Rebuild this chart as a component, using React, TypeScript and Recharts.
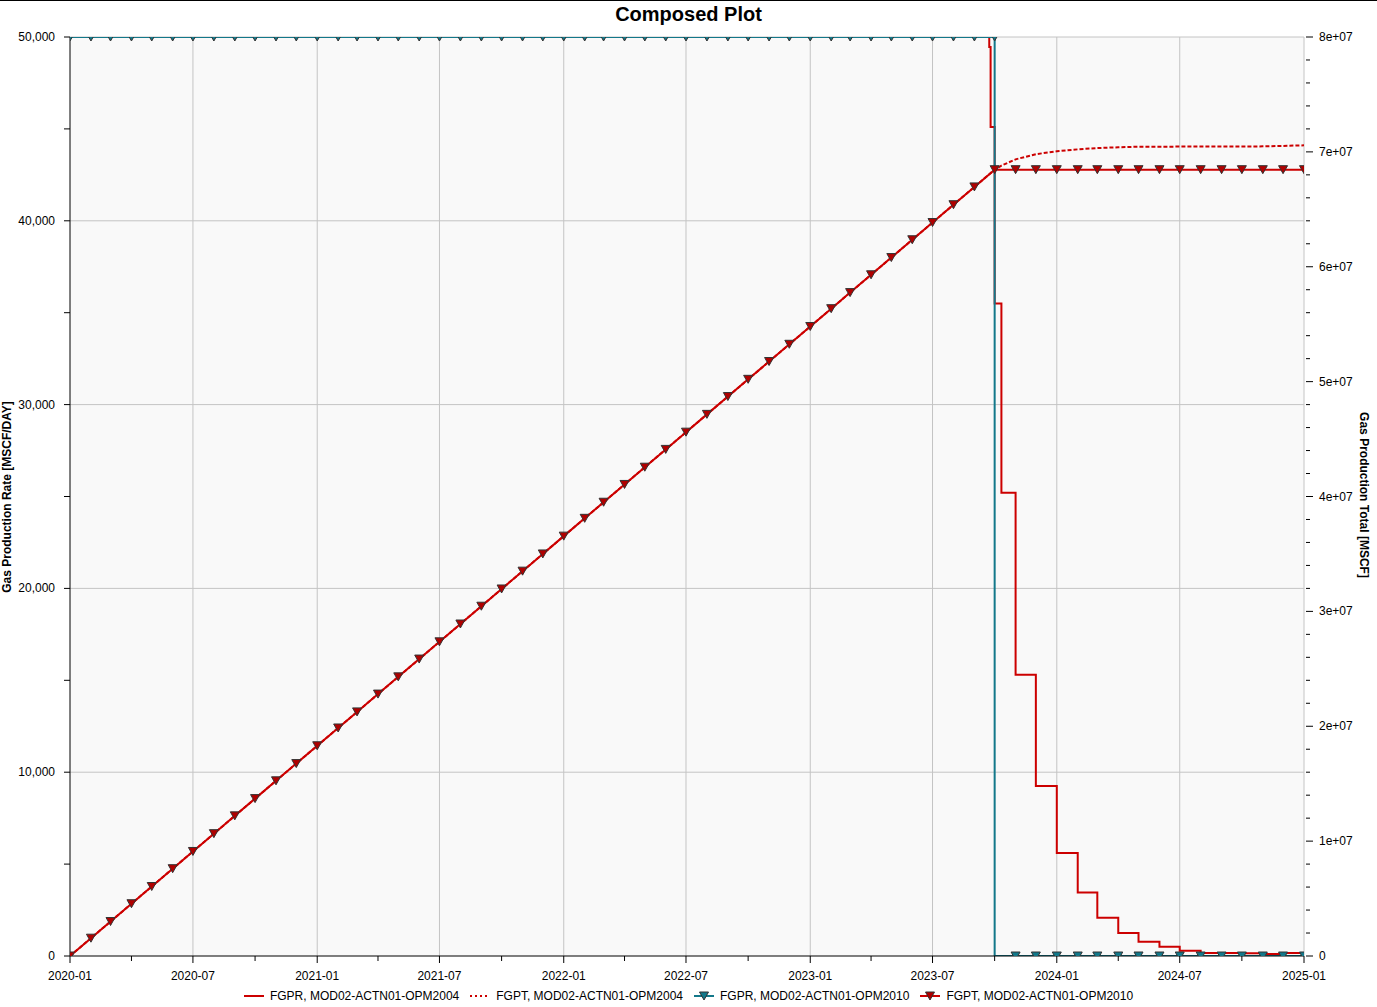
import { ComposedChart, Line, XAxis, YAxis, CartesianGrid } from 'recharts'

const FONT = '"Liberation Sans", Arial, sans-serif'
const RED = '#cc0000'
const TEAL = '#13788a'

// monthly report dates, 2020-01 .. 2025-01
const months = [
  '2020-01', '2020-02', '2020-03', '2020-04', '2020-05', '2020-06', '2020-07', '2020-08', '2020-09', '2020-10', '2020-11', '2020-12',
  '2021-01', '2021-02', '2021-03', '2021-04', '2021-05', '2021-06', '2021-07', '2021-08', '2021-09', '2021-10', '2021-11', '2021-12',
  '2022-01', '2022-02', '2022-03', '2022-04', '2022-05', '2022-06', '2022-07', '2022-08', '2022-09', '2022-10', '2022-11', '2022-12',
  '2023-01', '2023-02', '2023-03', '2023-04', '2023-05', '2023-06', '2023-07', '2023-08', '2023-09', '2023-10', '2023-11', '2023-12',
  '2024-01', '2024-02', '2024-03', '2024-04', '2024-05', '2024-06', '2024-07', '2024-08', '2024-09', '2024-10', '2024-11', '2024-12',
  '2025-01',
]

// FGPR, OPM2010 (MSCF/DAY), one per month
const fgpr2010 = [
  50000, 50000, 50000, 50000, 50000, 50000, 50000, 50000, 50000, 50000, 50000, 50000,
  50000, 50000, 50000, 50000, 50000, 50000, 50000, 50000, 50000, 50000, 50000, 50000,
  50000, 50000, 50000, 50000, 50000, 50000, 50000, 50000, 50000, 50000, 50000, 50000,
  50000, 50000, 50000, 50000, 50000, 50000, 50000, 50000, 50000, 50000, 0, 0,
  0, 0, 0, 0, 0, 0, 0, 0, 0, 0, 0, 0,
  0,
]

// FGPT, OPM2010 (millions of MSCF), one per month
const fgpt2010 = [
  0, 1.55, 3.0, 4.55, 6.05, 7.6, 9.1, 10.65, 12.2, 13.7, 15.25, 16.75,
  18.3, 19.85, 21.25, 22.8, 24.3, 25.85, 27.35, 28.9, 30.45, 31.95, 33.5, 35.0,
  36.55, 38.1, 39.5, 41.05, 42.55, 44.1, 45.6, 47.15, 48.7, 50.2, 51.75, 53.25,
  54.8, 56.35, 57.75, 59.3, 60.8, 62.35, 63.85, 65.4, 66.95, 68.45, 68.45, 68.45,
  68.45, 68.45, 68.45, 68.45, 68.45, 68.45, 68.45, 68.45, 68.45, 68.45, 68.45, 68.45,
  68.45,
]

// FGPR, OPM2004 (MSCF/DAY), step values at these dates
const fgpr2004Dates = [
  '2020-01-01', '2023-09-23', '2023-09-25', '2023-10-01', '2023-10-11', '2023-11-01', '2023-12-01',
  '2024-01-01', '2024-02-01', '2024-03-01', '2024-04-01', '2024-05-01', '2024-06-01', '2024-07-01',
  '2024-08-01', '2024-09-01', '2024-10-01', '2024-11-01', '2024-12-01', '2025-01-01',
]
const fgpr2004 = [
  50000, 49450, 45100, 35500, 25200, 15300, 9250,
  5600, 3450, 2080, 1250, 780, 500, 290,
  170, 160, 150, 110, 170, 170,
]

// FGPT, OPM2004 (millions of MSCF): same as OPM2010 up to 2023-10, then this tail
const fgpt2004TailDates = [
  '2023-10-11', '2023-11-01', '2023-12-01', '2024-01-01', '2024-02-01', '2024-03-01', '2024-04-01',
  '2024-05-01', '2024-06-01', '2024-07-01', '2024-08-01', '2024-09-01', '2024-10-01', '2024-11-01',
  '2024-12-01', '2025-01-01',
]
const fgpt2004Tail = [
  68.8, 69.35, 69.8, 70.05, 70.22, 70.33, 70.4,
  70.45, 70.45, 70.46, 70.46, 70.47, 70.47, 70.48,
  70.52, 70.57,
]

const xTickLabels = ['2020-01', '2020-07', '2021-01', '2021-07', '2022-01', '2022-07', '2023-01', '2023-07', '2024-01', '2024-07', '2025-01']
const xMinorTicks = ['2020-04', '2020-10', '2021-04', '2021-10', '2022-04', '2022-10', '2023-04', '2023-10', '2024-04', '2024-10']
const leftTicks = [0, 5000, 10000, 15000, 20000, 25000, 30000, 35000, 40000, 45000, 50000]
const leftGrid = [10000, 20000, 30000, 40000, 50000]

function ts(s: string) {
  const y = +s.slice(0, 4)
  const m = +s.slice(5, 7) - 1
  const d = s.length > 7 ? +s.slice(8, 10) : 1
  return Date.UTC(y, m, d)
}

const T0 = ts('2020-01')
const T1 = ts('2025-01')
const xTicks = [...xTickLabels, ...xMinorTicks].map(ts).sort((a, b) => a - b)
const xMajorSet = new Set(xTickLabels.map(ts))
const rightTicks: number[] = []
for (let v = 0; v <= 8e7; v += 2e6) rightTicks.push(v)

const fgpr2010Data = months.map((m, i) => ({ t: ts(m), v: fgpr2010[i] }))
const fgpt2010Data = months.map((m, i) => ({ t: ts(m), v: fgpt2010[i] * 1e6 }))
const fgpr2004Data = fgpr2004Dates.map((d, i) => ({ t: ts(d), v: fgpr2004[i] }))
const fgpt2004Data = [
  ...fgpt2010Data.filter((p) => p.t <= ts('2023-10')),
  ...fgpt2004TailDates.map((d, i) => ({ t: ts(d), v: fgpt2004Tail[i] * 1e6 })),
]

const tri = (fill: string) => (p: any) => {
  const { cx, cy, index } = p
  if (cx == null || cy == null) return <g key={index} />
  return (
    <path
      key={index}
      d={`M${cx - 4.5},${cy - 4}L${cx + 4.5},${cy - 4}L${cx},${cy + 4}Z`}
      fill={fill}
      stroke="#333"
      strokeWidth={1}
    />
  )
}

function LeftTick(p: any) {
  const { x, y, payload } = p
  const v = payload.value as number
  return (
    <g>
      <line x1={x - 6} x2={x} y1={y} y2={y} stroke="#000" />
      {v % 10000 === 0 && (
        <text x={x - 15} y={y} dy={4} textAnchor="end" fontSize={12} fontFamily={FONT} fill="#000">
          {v.toLocaleString('en-US')}
        </text>
      )}
    </g>
  )
}

function RightTick(p: any) {
  const { x, y, payload } = p
  const v = payload.value as number
  const major = v % 1e7 === 0
  return (
    <g>
      <line x1={x + 2} x2={x + (major ? 9 : 6)} y1={y} y2={y} stroke="#000" />
      {major && (
        <text x={x + 15} y={y} dy={4} textAnchor="start" fontSize={12} fontFamily={FONT} fill="#000">
          {v === 0 ? '0' : `${v / 1e7}e+07`}
        </text>
      )}
    </g>
  )
}

function BottomTick(p: any) {
  const { x, y, payload } = p
  const v = payload.value as number
  const major = xMajorSet.has(v)
  const d = new Date(v)
  const label = `${d.getUTCFullYear()}-${String(d.getUTCMonth() + 1).padStart(2, '0')}`
  return (
    <g>
      <line x1={x} x2={x} y1={y} y2={y + (major ? 7 : 5)} stroke="#000" />
      {major && (
        <text x={x} y={y + 24} textAnchor="middle" fontSize={12} fontFamily={FONT} fill="#000">
          {label}
        </text>
      )}
    </g>
  )
}

const legendItems = [
  { name: 'FGPR, MOD02-ACTN01-OPM2004', color: RED, dash: undefined, marker: null },
  { name: 'FGPT, MOD02-ACTN01-OPM2004', color: RED, dash: '2 3', marker: null },
  { name: 'FGPR, MOD02-ACTN01-OPM2010', color: TEAL, dash: undefined, marker: TEAL },
  { name: 'FGPT, MOD02-ACTN01-OPM2010', color: RED, dash: undefined, marker: '#b00000' },
]

export default function App() {
  return (
    <div style={{ position: 'relative', width: 1377, height: 1007, background: '#fff', fontFamily: FONT }}>
      <style>{'body{margin:0}'}</style>
      <div style={{ position: 'absolute', left: 0, top: 0, width: 1377, height: 1, background: '#000' }} />
      <div
        style={{
          position: 'absolute', left: 0, top: 2, width: 1377, textAlign: 'center',
          fontSize: 20, fontWeight: 'bold', lineHeight: '24px', color: '#000',
        }}
      >
        Composed Plot
      </div>
      <ComposedChart width={1377} height={1007} margin={{ top: 37, right: 3, bottom: 21, left: 10 }}>
        <CartesianGrid
          yAxisId="left"
          fill="#f9f9f9"
          stroke="#c4c4c4"
          horizontalValues={leftGrid}
          verticalValues={xTickLabels.slice(1).map(ts)}
        />
        <XAxis
          dataKey="t"
          type="number"
          domain={[T0, T1]}
          ticks={xTicks}
          allowDataOverflow
          interval={0}
          height={30}
          tickSize={0}
          tickMargin={0}
          tickLine={false}
          tick={<BottomTick />}
          axisLine={{ stroke: '#000' }}
        />
        <YAxis
          yAxisId="left"
          type="number"
          domain={[0, 50000]}
          ticks={leftTicks}
          allowDataOverflow
          interval={0}
          width={60}
          tickSize={0}
          tickMargin={0}
          tickLine={false}
          tick={<LeftTick />}
          axisLine={{ stroke: '#000' }}
        />
        <YAxis
          yAxisId="right"
          orientation="right"
          type="number"
          domain={[0, 8e7]}
          ticks={rightTicks}
          allowDataOverflow
          interval={0}
          width={70}
          tickSize={0}
          tickMargin={0}
          tickLine={false}
          tick={<RightTick />}
          axisLine={false}
        />
        <Line
          yAxisId="left"
          data={fgpr2004Data}
          dataKey="v"
          name="FGPR, MOD02-ACTN01-OPM2004"
          type="stepAfter"
          stroke={RED}
          strokeWidth={2}
          dot={false}
          activeDot={false}
          isAnimationActive={false}
        />
        <Line
          yAxisId="right"
          data={fgpt2004Data}
          dataKey="v"
          name="FGPT, MOD02-ACTN01-OPM2004"
          type="linear"
          stroke={RED}
          strokeWidth={2}
          strokeDasharray="4 2"
          dot={false}
          activeDot={false}
          isAnimationActive={false}
        />
        <Line
          yAxisId="left"
          data={fgpr2010Data}
          dataKey="v"
          name="FGPR, MOD02-ACTN01-OPM2010"
          type="stepBefore"
          stroke={TEAL}
          strokeWidth={2}
          dot={tri(TEAL)}
          activeDot={false}
          isAnimationActive={false}
        />
        <Line
          yAxisId="right"
          data={fgpt2010Data}
          dataKey="v"
          name="FGPT, MOD02-ACTN01-OPM2010"
          type="linear"
          stroke={RED}
          strokeWidth={2}
          dot={tri('#b00000')}
          activeDot={false}
          isAnimationActive={false}
        />
      </ComposedChart>
      <div
        style={{
          position: 'absolute', left: 0, top: 497, width: 0, height: 0,
        }}
      >
        <div
          style={{
            position: 'absolute', left: 7, top: 0, transform: 'translate(-50%, -50%) rotate(-90deg)',
            whiteSpace: 'nowrap', fontSize: 12, fontWeight: 'bold', color: '#000',
          }}
        >
          Gas Production Rate [MSCF/DAY]
        </div>
      </div>
      <div style={{ position: 'absolute', left: 0, top: 495, width: 0, height: 0 }}>
        <div
          style={{
            position: 'absolute', left: 1364, top: 0, transform: 'translate(-50%, -50%) rotate(90deg)',
            whiteSpace: 'nowrap', fontSize: 12, fontWeight: 'bold', color: '#000',
          }}
        >
          Gas Production Total [MSCF]
        </div>
      </div>
      <div
        style={{
          position: 'absolute', left: 0, top: 988, width: 1377, display: 'flex',
          justifyContent: 'center', gap: 11, fontSize: 12, color: '#000', lineHeight: '16px',
        }}
      >
        {legendItems.map((it) => (
          <div key={it.name} style={{ display: 'flex', alignItems: 'center', gap: 6 }}>
            <svg width={20} height={12}>
              <line x1={0} x2={20} y1={6} y2={6} stroke={it.color} strokeWidth={2} strokeDasharray={it.dash} />
              {it.marker && <path d="M5.5,2L14.5,2L10,10Z" fill={it.marker} stroke="#333" strokeWidth={1} />}
            </svg>
            <span>{it.name}</span>
          </div>
        ))}
      </div>
    </div>
  )
}
